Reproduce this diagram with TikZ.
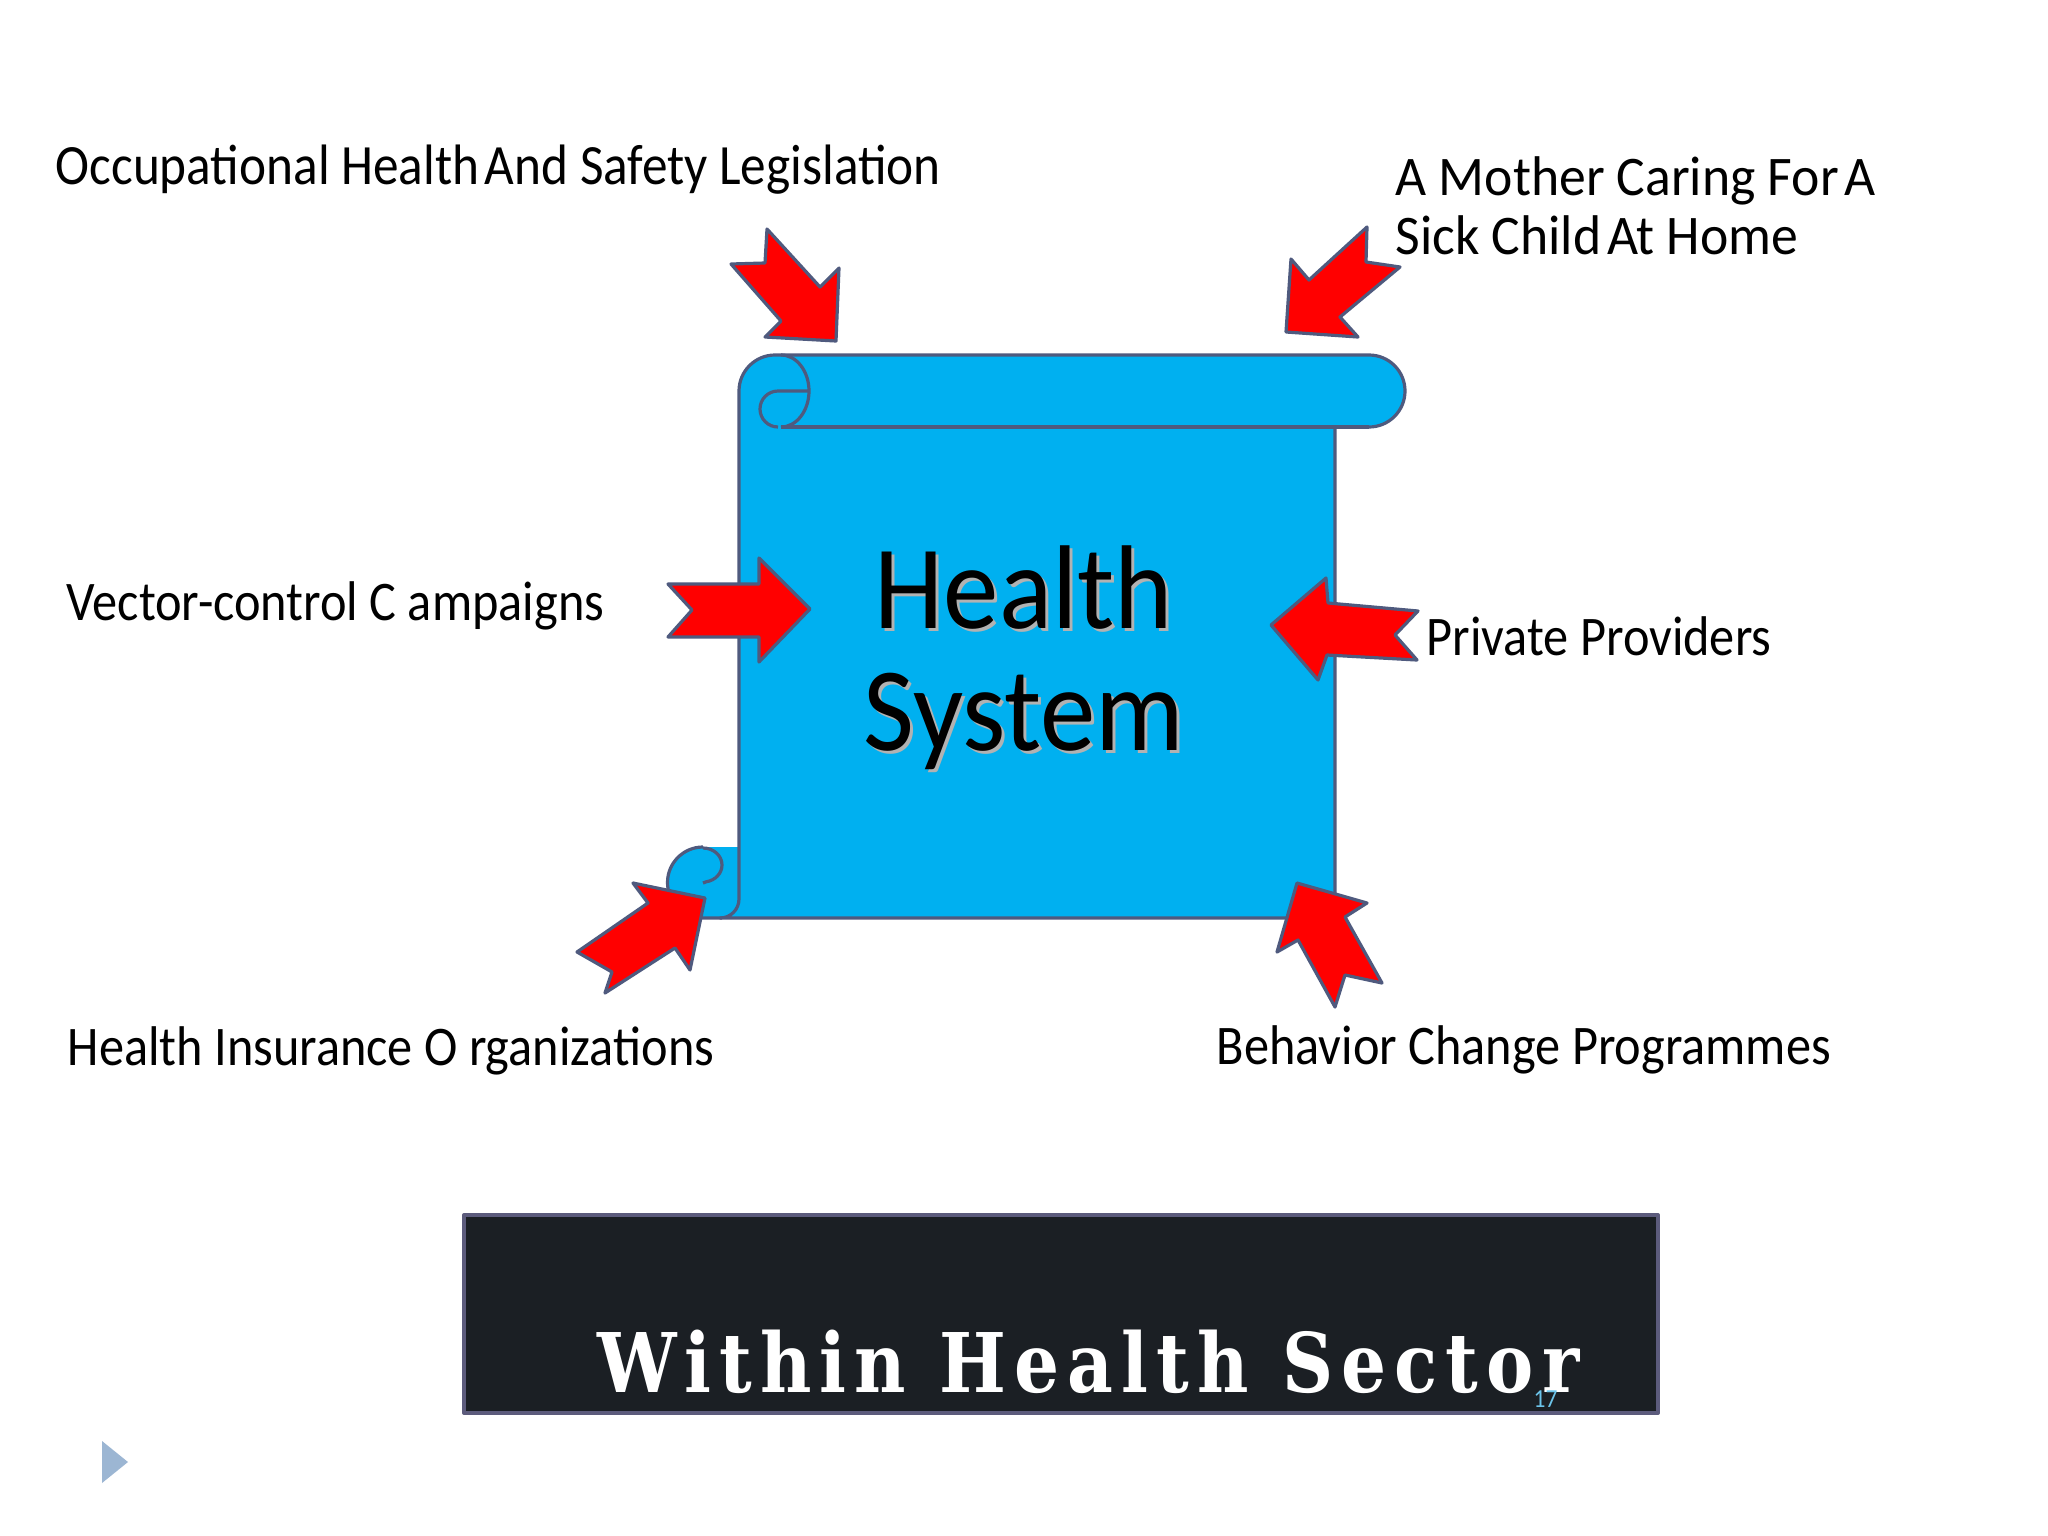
\documentclass[tikz,border=0pt]{standalone}
\usepackage{fontspec}
\setmainfont{Carlito}
\newfontfamily\lblfont[FakeStretch=0.9]{Carlito}
\newfontfamily\lblwidefont[FakeStretch=0.96]{Carlito}
\newfontfamily\hsfont[FakeStretch=0.93]{Carlito}
\newfontfamily\ttlfont[FakeStretch=0.86,LetterSpace=10]{DejaVu Serif}
\definecolor{scrollblue}{HTML}{00B0F0}
\definecolor{edgecol}{HTML}{4F5A7E}
\definecolor{arrowred}{HTML}{FF0000}
\definecolor{boxfill}{HTML}{1B1F24}
\definecolor{boxedge}{HTML}{5C5B7C}
\definecolor{pagenum}{HTML}{6CC4EA}
\definecolor{tricol}{HTML}{9CB6D3}
\begin{document}
\begin{tikzpicture}[x=0.01cm,y=-0.01cm,line join=round,
  scrollshape/.style={fill=scrollblue,draw=edgecol,line width=0.032cm},
  scrollline/.style={draw=edgecol,line width=0.032cm},
  blockarrow/.style={fill=arrowred,draw=edgecol,line width=0.032cm},
  lbl/.style={inner sep=0,anchor=base west,font=\lblfont\fontsize{15.9pt}{16pt}\selectfont},
  lblwide/.style={inner sep=0,anchor=base west,font=\lblwidefont\fontsize{15.9pt}{16pt}\selectfont},
  hs/.style={inner sep=0,anchor=base,font=\hsfont\fontsize{33.9pt}{34pt}\selectfont}]
\useasboundingbox (0,0) rectangle (2048,1536);
\fill[white] (0,0) rectangle (2048,1536);

% bottom-left curl (behind body)
\fill[scrollblue] (703,847) -- (745,847) -- (745,918) -- (703,918) arc[start angle=90,end angle=270,radius=35.5] -- cycle;
\draw[scrollline] (722,918) -- (703,918) arc[start angle=90,end angle=270,radius=35.5];

% scroll body with roll
\draw[scrollshape] (739,899) -- (739,391) arc[start angle=180,end angle=270,radius=36]
  -- (1369,355) arc[start angle=-90,end angle=90,radius=36]
  -- (1335,427) -- (1335,918) -- (720,918) arc[start angle=90,end angle=0,radius=19] -- cycle;
\draw[scrollline] (1369,427) -- (781,427);
\draw[scrollline] (781,355) arc[start angle=-90,end angle=90,x radius=28,y radius=36];
\draw[scrollline] (809,391) -- (778,391) arc[start angle=-90,end angle=-270,radius=18];
\draw[scrollline] (703,848) arc[start angle=-90,end angle=80,x radius=19,y radius=17] -- (703,883);

% Health System text
\node[hs,text=black!30] (hsshadow1) at (1027,631) {Health};
\node[hs,text=black!30] (hsshadow2) at (1027,753) {System};
\node[hs] (hs1) at (1024,628) {Health};
\node[hs] (hs2) at (1024,750) {System};

% block arrows
\draw[blockarrow] (767,229) -- (820,287) -- (839,268) -- (836,341) -- (765,337) -- (781,321) -- (731,264) -- (765,263) -- cycle;
\draw[blockarrow] (1367,227) -- (1309,280) -- (1291,259) -- (1286,332) -- (1358,337) -- (1340,317) -- (1400,267) -- (1366,262) -- cycle;
\draw[blockarrow] (668,584) -- (759,584) -- (759,558) -- (810,609) -- (759,662) -- (759,637) -- (668,637) -- (692,610) -- cycle;
\draw[blockarrow] (1271,625) -- (1326,578) -- (1328,603) -- (1418,611) -- (1395,635) -- (1417,660) -- (1327,655) -- (1318,680) -- cycle;
\draw[blockarrow] (705,898) -- (633,883) -- (648,903) -- (577,952) -- (612,972) -- (605,993) -- (675,948) -- (690,970) -- cycle;
\draw[blockarrow] (1297,883) -- (1367,903) -- (1345,917) -- (1382,983) -- (1345,975) -- (1335,1007) -- (1298,940) -- (1277,952) -- cycle;

% labels
\node[lbl,font=\lblfont\fontsize{16.2pt}{16.5pt}\selectfont] (occ) at (55,184) {Occupational Health\kern0.1em And Safety Legislation};
\node[lblwide] (mother1) at (1395,195) {A Mother Caring For\kern0.1em A};
\node[lblwide] (mother2) at (1395,254) {Sick Child\kern0.1em At Home};
\node[lbl] (vector) at (66,620) {Vector-control C ampaigns};
\node[lbl] (private) at (1426,655) {Private Providers};
\node[lbl] (insurance) at (67,1065) {Health Insurance O rganizations};
\node[lbl] (behavior) at (1216,1064) {Behavior Change Programmes};

% title box
\draw[fill=boxfill,draw=boxedge,line width=0.04cm] (464,1215) rectangle (1658,1413);
\node[inner sep=0,anchor=base west,text=white,font=\ttlfont\bfseries\fontsize{23.4pt}{24pt}\selectfont] (title) at (597,1392) {Within Health Sector};
\node[inner sep=0,anchor=base west,text=pagenum,font=\lblfont\fontsize{7.4pt}{8pt}\selectfont] (pg) at (1533,1407) {17};

% navigation triangle
\fill[tricol] (102,1441) -- (128,1462) -- (102,1483) -- cycle;
\end{tikzpicture}
\end{document}
